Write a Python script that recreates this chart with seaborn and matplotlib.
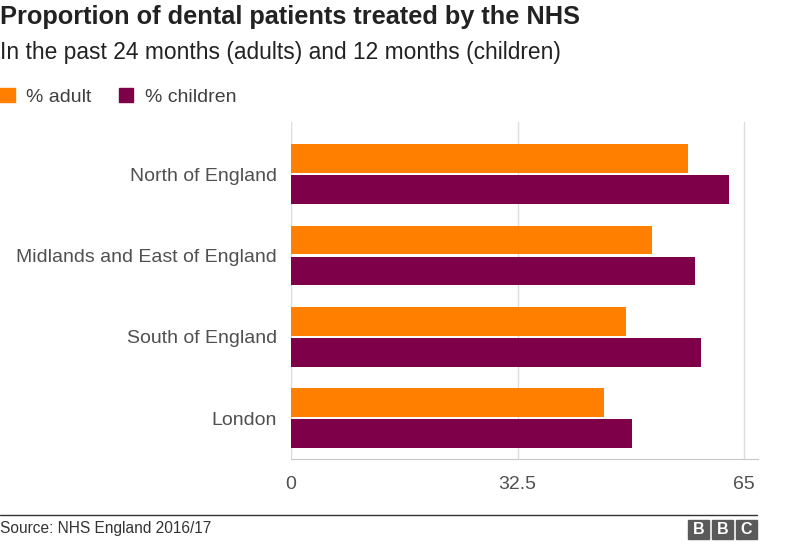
import matplotlib
matplotlib.use("Agg")
import matplotlib.pyplot as plt
from matplotlib.patches import Rectangle
import seaborn as sns
import pandas as pd

# Datos
regiones = ["North of England", "Midlands and East of England", "South of England", "London"]
adultos = [57.0, 51.8, 48.0, 44.9]
ninos = [62.9, 57.9, 58.8, 48.9]
series = ["% adult", "% children"]
ticks_x = [0, 32.5, 65]
ticks_txt = ["0", "32.5", "65"]

colores = {"% adult": "#FF7F00", "% children": "#7D0049"}

df = pd.DataFrame({
    "Region": regiones * 2,
    "Serie": [series[0]] * 4 + [series[1]] * 4,
    "Valor": adultos + ninos,
})

sns.set_style("white")
plt.rcParams["font.family"] = ["Liberation Sans", "DejaVu Sans"]

fig = plt.figure(figsize=(8, 5.46), dpi=100)
ax = fig.add_axes([291 / 800, 1 - 459 / 546, (758 - 291) / 800, (459 - 122) / 546])

sns.barplot(data=df, y="Region", x="Valor", hue="Serie", palette=colores,
            orient="h", width=0.76, gap=0.07, legend=False, ax=ax,
            edgecolor="none", saturation=1)

ax.set_xlim(0, 67)
ax.set_ylim(3.5, -0.64)
ax.set_xticks(ticks_x)
ax.set_xticklabels(ticks_txt)
ax.xaxis.grid(True, color="#dcdcdc", linewidth=1)
ax.set_axisbelow(True)
for lado in ["top", "right", "left"]:
    ax.spines[lado].set_visible(False)
ax.spines["bottom"].set_color("#c8c8c8")
ax.set_xlabel("")
ax.set_ylabel("")
ax.tick_params(axis="x", length=4, width=1, color="#c8c8c8", pad=8,
               labelsize=14, labelcolor="#505050")
ax.tick_params(axis="y", length=0, pad=10, labelsize=14, labelcolor="#505050")

# Titulos
fig.text(0.0, 1 - 17 / 546, "Proportion of dental patients treated by the NHS",
         fontsize=18.3, fontweight="bold", color="#222222", va="center", ha="left")
fig.text(0.0, 1 - 53 / 546, "In the past 24 months (adults) and 12 months (children)",
         fontsize=16.4, color="#222222", va="center", ha="left")

# Leyenda
manijas = [Rectangle((0, 0), 1, 1, color=colores[s]) for s in series]
fig.legend(manijas, series, loc="center left", bbox_to_anchor=(0.0, 1 - 97 / 546),
           ncol=2, frameon=False, fontsize=14, handlelength=0.75, handleheight=0.75,
           handletextpad=0.6, columnspacing=1.4, labelcolor="#404040",
           borderpad=0, borderaxespad=0)

# Pie de pagina
fig.add_artist(plt.Line2D([0, 757 / 800], [1 - 515 / 546, 1 - 515 / 546],
                          color="#333333", linewidth=1))
fig.text(0.0, 1 - 529 / 546, "Source: NHS England 2016/17", fontsize=11.2,
         color="#333333", va="center", ha="left")

# Logo BBC
for i, letra in enumerate("BBC"):
    x0 = 688 + i * 24
    fig.add_artist(Rectangle((x0 / 800, 1 - 539 / 546), 21 / 800, 19 / 546,
                             color="#5a5a5a", transform=fig.transFigure))
    fig.text((x0 + 10.5) / 800, 1 - 529.5 / 546, letra, fontsize=11.5,
             fontweight="bold", color="white", ha="center", va="center")

fig.savefig("out.png", dpi=100)
